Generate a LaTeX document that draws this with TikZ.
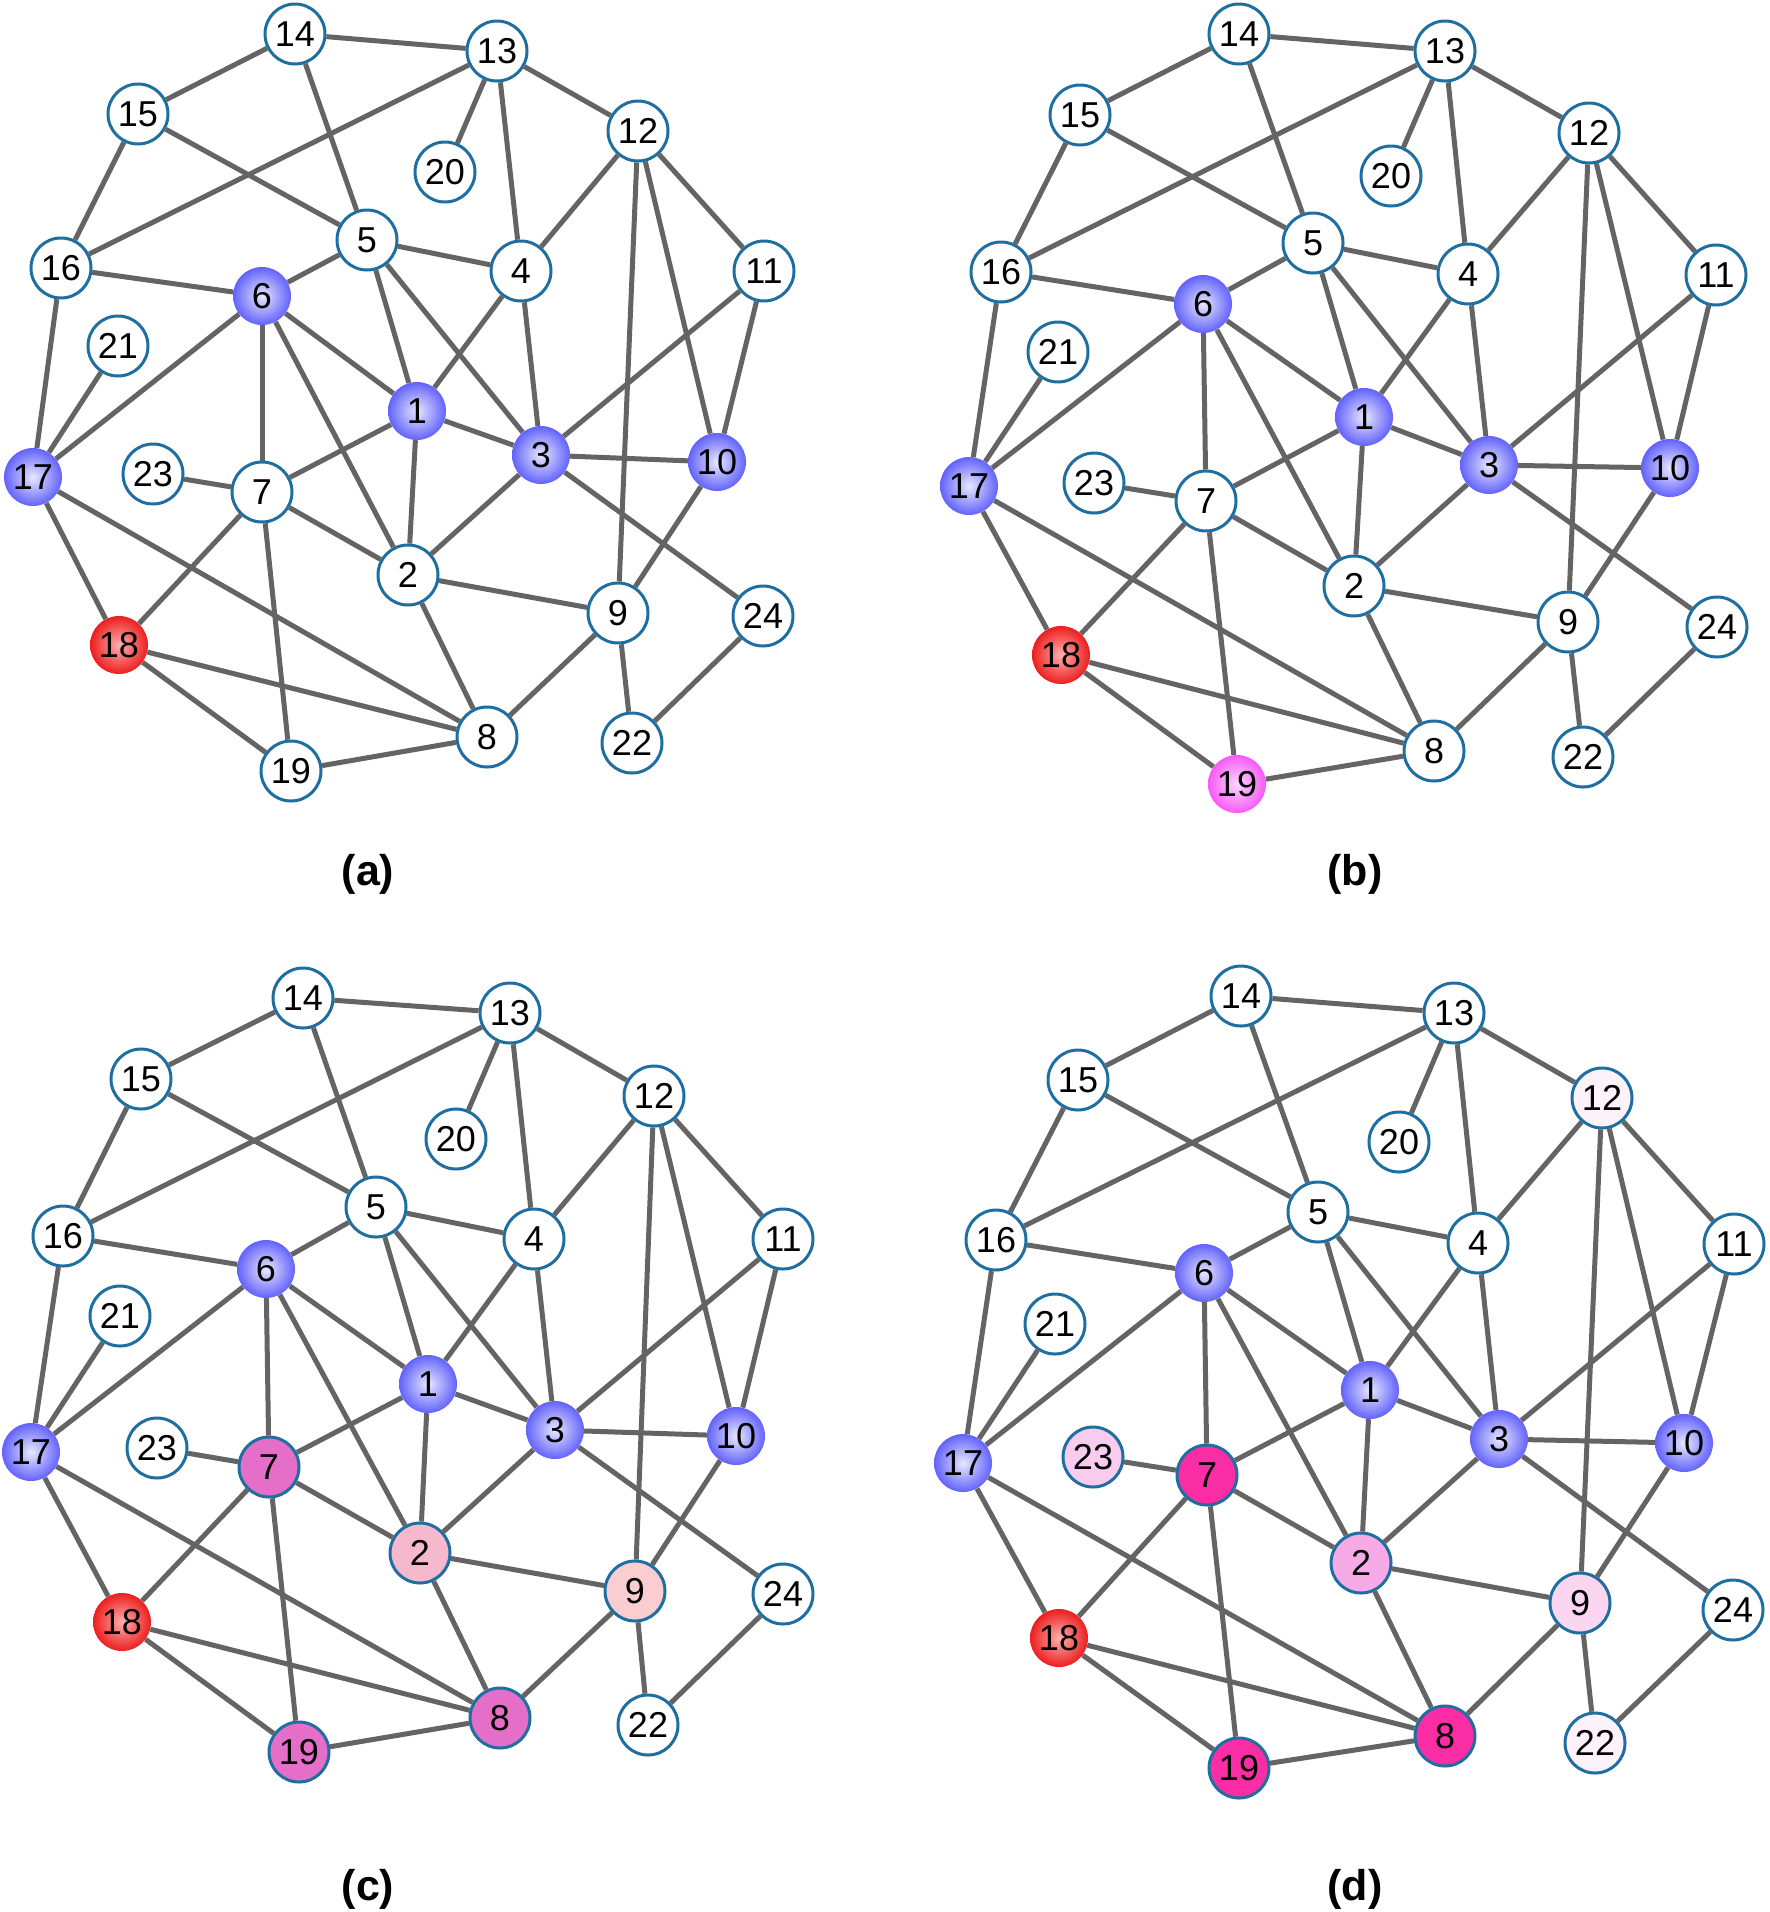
\documentclass[tikz,border=0pt]{standalone}
\usepackage{fontspec}
\setmainfont{Liberation Sans}
\pgfdeclarelayer{bg}
\pgfsetlayers{bg,main}
\definecolor{nb}{RGB}{30,110,160}
\definecolor{edgec}{RGB}{100,100,100}
\definecolor{blueIn}{RGB}{232,232,255}
\definecolor{blueOut}{RGB}{98,98,252}
\definecolor{redIn}{RGB}{255,175,175}
\definecolor{redOut}{RGB}{236,30,30}
\definecolor{magIn}{RGB}{255,215,255}
\definecolor{magOut}{RGB}{245,90,245}
\definecolor{orchidc}{RGB}{228,110,200}
\definecolor{pinkctwo}{RGB}{246,184,204}
\definecolor{pinkcnine}{RGB}{250,206,208}
\definecolor{hotpinkc}{RGB}{250,45,165}
\definecolor{dtwo}{RGB}{246,170,230}
\definecolor{dtwothree}{RGB}{248,204,238}
\definecolor{dnine}{RGB}{250,214,240}
\definecolor{dtwelve}{RGB}{254,242,250}
\begin{document}
\begin{tikzpicture}[x=1pt,y=-1pt,
  wn/.style={circle,draw=nb,line width=3pt,fill=white,minimum size=60pt,inner sep=0pt,font=\fontsize{36}{36}\selectfont},
  ballbase/.style={circle,minimum size=58pt,inner sep=0pt,font=\fontsize{36}{36}\selectfont,shading=radial},
  bluen/.style={ballbase,inner color=blueIn,outer color=blueOut},
  redn/.style={ballbase,inner color=redIn,outer color=redOut},
  magn/.style={ballbase,inner color=magIn,outer color=magOut},
  edge/.style={draw=edgec,line width=5pt},
  lab/.style={font=\bfseries\fontsize{43}{43}\selectfont}]
\useasboundingbox (0,0) rectangle (1770,1912);
% ---------- panel (a)
\node[bluen] (a1) at (417,411) {1};
\node[wn] (a2) at (408,575) {2};
\node[bluen] (a3) at (541,455) {3};
\node[wn] (a4) at (521,271) {4};
\node[wn] (a5) at (367,240) {5};
\node[bluen] (a6) at (262,296) {6};
\node[wn] (a7) at (262,492) {7};
\node[wn] (a8) at (487,737) {8};
\node[wn] (a9) at (618,613) {9};
\node[bluen] (a10) at (717,462) {10};
\node[wn] (a11) at (764,271) {11};
\node[wn] (a12) at (638,131) {12};
\node[wn] (a13) at (497,51) {13};
\node[wn] (a14) at (295,34) {14};
\node[wn] (a15) at (138,114) {15};
\node[wn] (a16) at (61,268) {16};
\node[bluen] (a17) at (33,477) {17};
\node[redn] (a18) at (119,645) {18};
\node[wn] (a19) at (291,771) {19};
\node[wn] (a20) at (445,172) {20};
\node[wn] (a21) at (118,346) {21};
\node[wn] (a22) at (632,743) {22};
\node[wn] (a23) at (153,474) {23};
\node[wn] (a24) at (763,616) {24};
\node[lab] (la) at (368,874) {(a)};
% ---------- panel (b)
\node[bluen] (b1) at (1364,417) {1};
\node[wn] (b2) at (1354,586) {2};
\node[bluen] (b3) at (1489,465) {3};
\node[wn] (b4) at (1468,274) {4};
\node[wn] (b5) at (1313,243) {5};
\node[bluen] (b6) at (1203,304) {6};
\node[wn] (b7) at (1206,501) {7};
\node[wn] (b8) at (1434,751) {8};
\node[wn] (b9) at (1568,622) {9};
\node[bluen] (b10) at (1670,468) {10};
\node[wn] (b11) at (1716,275) {11};
\node[wn] (b12) at (1589,133) {12};
\node[wn] (b13) at (1445,51) {13};
\node[wn] (b14) at (1239,34) {14};
\node[wn] (b15) at (1080,115) {15};
\node[wn] (b16) at (1001,272) {16};
\node[bluen] (b17) at (969,486) {17};
\node[redn] (b18) at (1061,655) {18};
\node[magn] (b19) at (1237,784) {19};
\node[wn] (b20) at (1391,176) {20};
\node[wn] (b21) at (1058,352) {21};
\node[wn] (b22) at (1583,757) {22};
\node[wn] (b23) at (1094,483) {23};
\node[wn] (b24) at (1717,627) {24};
\node[lab] (lb) at (1355,874) {(b)};
% ---------- panel (c)
\node[bluen] (c1) at (428,1384) {1};
\node[wn,fill=pinkctwo] (c2) at (420,1553) {2};
\node[bluen] (c3) at (555,1430) {3};
\node[wn] (c4) at (534,1239) {4};
\node[wn] (c5) at (376,1207) {5};
\node[bluen] (c6) at (266,1269) {6};
\node[wn,fill=orchidc] (c7) at (269,1467) {7};
\node[wn,fill=orchidc] (c8) at (500,1718) {8};
\node[wn,fill=pinkcnine] (c9) at (635,1591) {9};
\node[bluen] (c10) at (736,1436) {10};
\node[wn] (c11) at (783,1239) {11};
\node[wn] (c12) at (654,1096) {12};
\node[wn] (c13) at (510,1013) {13};
\node[wn] (c14) at (303,998) {14};
\node[wn] (c15) at (141,1079) {15};
\node[wn] (c16) at (63,1236) {16};
\node[bluen] (c17) at (31,1452) {17};
\node[redn] (c18) at (122,1622) {18};
\node[wn,fill=orchidc] (c19) at (299,1752) {19};
\node[wn] (c20) at (456,1139) {20};
\node[wn] (c21) at (120,1316) {21};
\node[wn] (c22) at (648,1725) {22};
\node[wn] (c23) at (157,1448) {23};
\node[wn] (c24) at (783,1594) {24};
\node[lab] (lc) at (368,1889) {(c)};
% ---------- panel (d)
\node[bluen] (d1) at (1370,1390) {1};
\node[wn,fill=dtwo] (d2) at (1361,1563) {2};
\node[bluen] (d3) at (1499,1439) {3};
\node[wn] (d4) at (1478,1243) {4};
\node[wn] (d5) at (1318,1212) {5};
\node[bluen] (d6) at (1204,1273) {6};
\node[wn,fill=hotpinkc] (d7) at (1207,1475) {7};
\node[wn,fill=hotpinkc] (d8) at (1445,1736) {8};
\node[wn,fill=dnine] (d9) at (1580,1603) {9};
\node[bluen] (d10) at (1684,1443) {10};
\node[wn] (d11) at (1734,1244) {11};
\node[wn,fill=dtwelve] (d12) at (1602,1098) {12};
\node[wn] (d13) at (1454,1013) {13};
\node[wn] (d14) at (1241,996) {14};
\node[wn] (d15) at (1078,1080) {15};
\node[wn] (d16) at (996,1240) {16};
\node[bluen] (d17) at (963,1463) {17};
\node[redn] (d18) at (1059,1638) {18};
\node[wn,fill=hotpinkc] (d19) at (1239,1768) {19};
\node[wn] (d20) at (1399,1142) {20};
\node[wn] (d21) at (1055,1324) {21};
\node[wn,fill=dtwelve] (d22) at (1595,1743) {22};
\node[wn,fill=dtwothree] (d23) at (1093,1457) {23};
\node[wn] (d24) at (1733,1610) {24};
\node[lab] (ld) at (1355,1889) {(d)};
% ---------- edges
\begin{pgfonlayer}{bg}
\foreach \p in {a,b,c,d}{
  \foreach \u/\v in {14/13,14/15,14/5,13/16,13/20,13/4,13/12,15/16,15/5,
    12/4,12/9,12/10,12/11,16/6,16/17,5/4,5/6,5/1,5/3,4/1,4/3,11/3,11/10,
    6/1,6/7,6/2,6/17,21/17,1/3,1/7,1/2,3/10,3/2,3/24,10/9,17/18,17/8,
    23/7,7/2,7/18,7/19,2/9,2/8,9/8,9/22,24/22,18/8,18/19,19/8}
    \draw[edge] (\p\u) -- (\p\v);
}
\end{pgfonlayer}
\end{tikzpicture}
\end{document}
